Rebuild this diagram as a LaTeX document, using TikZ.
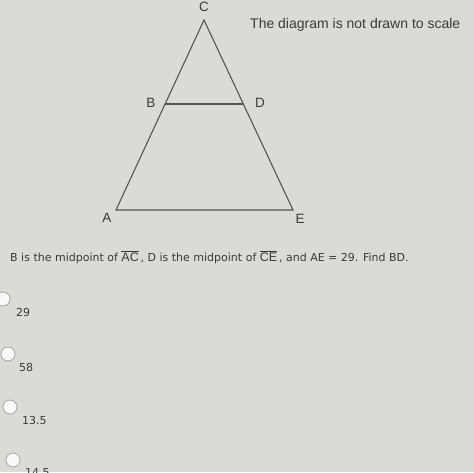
\documentclass[tikz,border=0pt]{standalone}
\usepackage{fontspec}
\setmainfont{Liberation Sans}
\newfontfamily\qfont{DejaVu Sans}
\definecolor{bg}{HTML}{DBDBD5}
\definecolor{ink}{HTML}{3A3A3A}
\definecolor{edge}{HTML}{555555}
\newcommand{\segbar}[1]{\ {\fontsize{12.5}{12}\selectfont$\overline{\mathrm{#1}}$}\,}
\begin{document}
\begin{tikzpicture}[x=1pt,y=-1pt,
  vlabel/.style={font=\fontsize{13.5}{14}\selectfont,text=ink,inner sep=0pt},
  side/.style={draw=edge,line width=1.1pt,line join=miter},
  qtext/.style={font=\qfont\fontsize{11}{12}\selectfont,text=ink,inner sep=0pt,anchor=west},
  radio/.style={draw=gray!70,fill=white!85!bg,line width=0.8pt}]
\useasboundingbox (0,0) rectangle (474,472);
\clip (0,0) rectangle (474,472);
\fill[bg] (0,0) rectangle (474,472);
% vertices
\coordinate (C) at (204,20);
\coordinate (A) at (116,210);
\coordinate (E) at (293,210);
\coordinate (B) at (165.1,104);
\coordinate (D) at (243.3,104);
\draw[side] (A) -- (C) -- (E) -- cycle;
\draw[side] (B) -- (D);
% labels
\node[vlabel] (lC) at (204,7) {C};
\node[vlabel] (lB) at (151,103) {B};
\node[vlabel] (lD) at (260,103) {D};
\node[vlabel] (lA) at (107,218) {A};
\node[vlabel] (lE) at (300,219) {E};
\node[font=\fontsize{14}{15}\selectfont,text=ink,anchor=west,inner sep=0pt] (note) at (250,25) {The diagram is not drawn to scale};
% question
\node[qtext] (q) at (10,257) {B is the midpoint of\segbar{AC}, D is the midpoint of\segbar{CE}, and AE = 29. Find BD.};
% radio buttons
\draw[radio] (3,299) circle (7);
\draw[radio] (8,354) circle (7);
\draw[radio] (10,407) circle (7);
\draw[radio] (13,460) circle (7);
\node[qtext] (o1) at (16,312) {29};
\node[qtext] (o2) at (19,367) {58};
\node[qtext] (o3) at (22,420) {13.5};
\node[qtext] (o4) at (25,473) {14.5};
\end{tikzpicture}
\end{document}
